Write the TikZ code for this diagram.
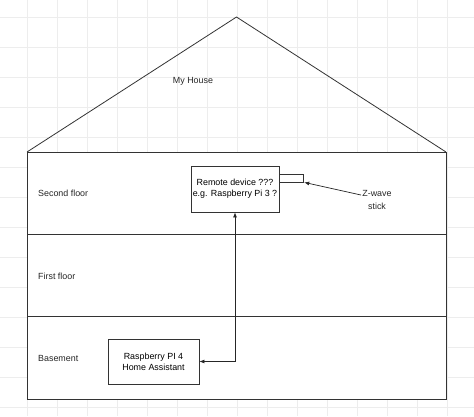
\documentclass[tikz,border=0pt]{standalone}
\usepackage{fontspec}
\setmainfont{Liberation Sans}
\usetikzlibrary{arrows.meta}
\begin{document}
\begin{tikzpicture}[x=1pt,y=-1pt,
  lbl/.style={font=\fontsize{8.9}{10.5}\selectfont, text=black!85, inner sep=0pt},
  box/.style={draw=black!80, line width=0.8pt, fill=white, align=center, font=\fontsize{8.9}{11}\selectfont, inner sep=0pt},
  wall/.style={draw=black!80, line width=0.8pt},
  conn/.style={draw=black!85, line width=0.8pt, {Latex[length=5pt,width=4pt]}-{Latex[length=5pt,width=4pt]}},
  single/.style={draw=black!85, line width=0.7pt, -{Latex[length=5pt,width=4pt]}}]
\useasboundingbox (0,0) rectangle (474,416);
\fill[white] (0,0) rectangle (474,416);
% faint grid
\foreach \gx in {-3,27,...,477} \draw[gray!14, line width=0.4pt] (\gx,0) -- (\gx,416);
\foreach \gy in {17,47,...,416} \draw[gray!14, line width=0.4pt] (0,\gy) -- (474,\gy);
% roof
\coordinate (roofL) at (27,152);
\coordinate (roofT) at (236.5,17);
\coordinate (roofR) at (446,152);
\draw[wall] (roofL) -- (roofT) -- (roofR);
\node[lbl] (house) at (193,81) {My House};
% building
\fill[white] (27,152) rectangle (446,399);
\draw[wall] (27,152) rectangle (446,399);
\draw[wall] (27,234) -- (446,234);
\draw[wall] (27,316) -- (446,316);
\node[lbl, anchor=west] (second) at (38,193) {Second floor};
\node[lbl, anchor=west] (first) at (38,276) {First floor};
\node[lbl, anchor=west] (base) at (38,358) {Basement};
% devices
\node[box, minimum width=88pt, minimum height=46pt] (remote) at (235,189) {Remote device ???\\e.g. Raspberry Pi 3 ?};
\node[draw=black!80, line width=0.8pt, fill=white, minimum width=24pt, minimum height=8pt, inner sep=0pt, anchor=west] (stick) at (remote.east |- 0,178) {};
\node[box, minimum width=91pt, minimum height=45pt] (rpi) at (153.5,361.5) {Raspberry PI 4\\Home Assistant};
\node[lbl, align=center, font=\fontsize{8.9}{12.5}\selectfont] (zlabel) at (377,200) {Z-wave\\stick};
% connectors
\draw[conn] (rpi.east) -| (remote.south);
\coordinate (zstart) at (361,195);
\draw[single] (zstart) -- (stick.south east);
\end{tikzpicture}
\end{document}
